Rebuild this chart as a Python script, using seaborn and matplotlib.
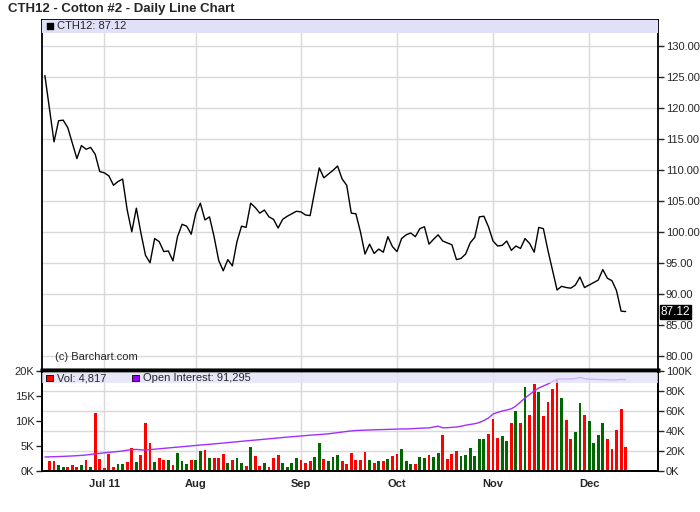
import numpy as np
import pandas as pd
import matplotlib
matplotlib.use("Agg")
import matplotlib.pyplot as plt
import seaborn as sns

# daily closes, CTH12 (one per trading day, 14 Jun 2011 -> 13 Dec 2011)
price = [125.2, 119.8, 114.5, 117.9, 118.0, 116.8, 114.3, 111.8, 113.9, 113.3,
         113.6, 112.5, 109.7, 109.5, 109.0, 107.5, 108.1, 108.5, 103.5, 100.0,
         103.8, 99.8, 96.2, 95.0, 98.9, 98.4, 96.8, 96.9, 95.3, 99.2,
         101.2, 100.9, 99.6, 103.0, 104.6, 101.9, 102.4, 99.2, 95.4, 93.7,
         95.5, 94.5, 98.4, 100.9, 100.7, 104.6, 103.9, 103.0, 103.5, 102.4,
         102.0, 100.6, 102.0, 102.5, 102.9, 103.3, 103.2, 102.7, 102.6, 106.5,
         110.3, 108.7, 109.3, 109.9, 110.6, 108.5, 107.5, 103.0, 102.9, 100.0,
         96.4, 98.0, 96.5, 97.2, 96.7, 99.2, 97.6, 96.8, 98.9, 99.5,
         99.8, 99.2, 100.5, 100.8, 98.0, 98.8, 99.5, 98.5, 98.2, 97.9,
         95.5, 95.7, 96.4, 98.2, 99.1, 102.4, 102.5, 100.8, 98.5, 97.7,
         97.8, 98.5, 97.0, 97.7, 97.3, 98.9, 98.1, 96.7, 100.7, 100.5,
         97.0, 93.8, 90.6, 91.2, 91.0, 90.9, 91.4, 92.7, 91.0, 91.4,
         91.8, 92.2, 93.9, 92.5, 92.1, 90.5, 87.2, 87.12]

# volume in thousands, trading days 1..127 (no bar on day 0)
volume_k = [2.0, 2.0, 1.2, 0.8, 0.8, 1.2, 0.8, 1.2, 2.2, 0.8,
            11.6, 2.4, 0.6, 3.4, 0.8, 1.4, 1.4, 1.8, 4.6, 1.8,
            3.2, 9.6, 5.6, 1.8, 2.6, 2.2, 2.2, 1.2, 3.6, 2.0,
            1.4, 2.2, 2.2, 4.0, 4.2, 2.6, 2.6, 2.6, 3.4, 1.6,
            2.2, 2.6, 1.6, 1.0, 4.8, 3.0, 1.0, 1.6, 0.8, 2.6,
            3.2, 1.6, 0.8, 1.6, 2.6, 2.2, 1.6, 2.0, 2.8, 5.6,
            2.4, 2.0, 2.8, 3.2, 2.0, 1.4, 3.6, 2.2, 2.2, 3.8,
            2.2, 1.6, 2.0, 2.0, 2.4, 3.0, 3.4, 4.4, 2.0, 1.4,
            1.4, 2.8, 2.6, 3.2, 2.8, 3.6, 7.2, 2.4, 3.4, 4.0,
            3.0, 3.2, 4.6, 3.0, 6.4, 6.4, 7.4, 10.4, 6.6, 7.0,
            6.0, 9.6, 12.0, 9.6, 16.8, 11.2, 17.4, 15.8, 11.0, 13.8,
            16.4, 18.2, 14.6, 10.2, 6.4, 7.8, 13.6, 11.2, 10.0, 5.6,
            7.2, 9.6, 6.4, 4.4, 8.2, 12.4, 4.817]
# bar colour: u = up day (green), d = down day (red)
volume_dir = list("dduudddudu" "ddddduuddu" "dddudduduu" "uduududddu"
                  "duududdudd" "duuuuddduu" "duuudddddd" "udududduuu"
                  "duuduudddd" "uuuuuudddu" "udududdudd" "ddudduuduu"
                  "uuddddd")

# open interest in thousands, trading days 0..127
open_int_k = [14.0, 14.2, 14.3, 14.4, 14.6, 14.8, 15.0, 15.3, 15.6, 16.0,
              16.6, 17.2, 17.6, 18.2, 18.6, 19.0, 19.5, 20.0, 20.8, 21.3,
              21.6, 21.2, 21.0, 21.4, 21.9, 22.3, 22.7, 23.1, 23.4, 23.8,
              24.2, 24.6, 25.1, 25.6, 26.0, 26.3, 26.7, 27.1, 27.6, 28.0,
              28.4, 28.8, 29.3, 29.7, 30.1, 30.5, 30.9, 31.4, 31.8, 32.2,
              32.6, 33.1, 33.5, 33.9, 34.3, 34.8, 35.2, 35.5, 35.8, 36.1,
              36.4, 36.8, 37.2, 37.8, 38.4, 39.0, 39.6, 40.1, 40.5, 40.7,
              40.9, 41.0, 41.2, 41.3, 41.5, 41.6, 41.8, 42.0, 42.1, 42.0,
              42.2, 42.5, 42.8, 43.0, 43.1, 44.0, 44.8, 43.2, 43.3, 43.6,
              44.0, 44.8, 45.8, 46.5, 47.3, 48.5, 50.5, 53.0, 57.0, 58.6,
              60.0, 61.0, 62.2, 65.0, 69.0, 73.0, 76.5, 80.0, 83.0, 85.0,
              87.0, 89.5, 91.8, 92.0, 92.0, 92.1, 92.5, 93.6, 92.4, 91.8,
              91.6, 91.5, 91.4, 91.2, 91.0, 91.2, 91.6, 91.295]

month_labels = ["Jul 11", "Aug", "Sep", "Oct", "Nov", "Dec"]
holidays = ["2011-07-04", "2011-09-05", "2011-11-24"]

# trading calendar -> integer x positions
days = pd.bdate_range("2011-06-14", "2011-12-13")
days = days[~days.isin(pd.to_datetime(holidays))]
idx = np.arange(len(days))
first_of_month = pd.Series(idx, index=days).groupby(days.to_period("M")).first()
month_pos = first_of_month.values[1:]

price_df = pd.DataFrame({"day": idx, "close": price, "oi": open_int_k})
vol_df = pd.DataFrame({"day": idx[1:], "vol": volume_k, "dir": volume_dir})

sns.set_style("white")
plt.rcParams["font.family"] = ["Liberation Sans", "DejaVu Sans"]

GRID = "#d9d9d9"
BAND = "#e0e0f8"
TICK_FS = 8
fig = plt.figure(figsize=(7, 5.12), dpi=100)
axp = fig.add_axes([42 / 700, 142 / 512, 616 / 700, 350 / 512])
axv = fig.add_axes([42 / 700, 41 / 512, 616 / 700, 101 / 512])
axo = axv.twinx()

# ---- price panel
sns.lineplot(data=price_df, x="day", y="close", color="black", lw=1.0, ax=axp)
axp.set_xlim(-0.63, 134.07)
axp.set_ylim(77.7, 134.15)
axp.set_yticks(np.arange(80, 131, 5))
axp.set_yticklabels([f"{v:.2f}" for v in np.arange(80, 131, 5)])
axp.yaxis.tick_right()
axp.set_xticks(month_pos)
axp.set_xticklabels([])
axp.tick_params(axis="x", length=0)
axp.tick_params(axis="y", direction="out", length=4, width=1, labelsize=TICK_FS, pad=1.5)
axp.grid(True, color=GRID, lw=1)
axp.set_xlabel("")
axp.set_ylabel("")
for s in axp.spines.values():
    s.set_color("black")
    s.set_linewidth(1.3)
axp.spines["bottom"].set_linewidth(2.5)
axp.add_patch(plt.Rectangle((0, 0.963), 1, 0.037, transform=axp.transAxes,
                            facecolor=BAND, edgecolor="none", zorder=3))
axp.scatter([0.0125], [0.9815], transform=axp.transAxes, marker="s", s=18,
            color="black", zorder=4)
axp.text(0.024, 0.9815, f"CTH12: {price[-1]:.2f}", transform=axp.transAxes,
         fontsize=8, va="center", ha="left", zorder=4)
axp.text(0.021, 0.037, "(c) Barchart.com", transform=axp.transAxes,
         fontsize=8, va="center", ha="left")
axp.text(1.004, price[-1], f"{price[-1]:.2f}", transform=axp.get_yaxis_transform(),
         fontsize=8.5, color="white", va="center", ha="left", zorder=5,
         bbox=dict(boxstyle="square,pad=0.08", facecolor="black", edgecolor="black"),
         clip_on=False)

# ---- volume panel
VOL_TOP, OI_TOP = 20.2, 101.0
sns.barplot(data=vol_df, x="day", y="vol", hue="dir", native_scale=True,
            palette={"u": "#006600", "d": "#ff0000"}, width=0.62, dodge=False,
            saturation=1, errorbar=None, legend=False, ax=axv, zorder=2,
            edgecolor="none", linewidth=0)
for p in axv.patches:
    p.set_antialiased(False)
for t in [20, 40, 60, 80]:
    axv.axhline(t * VOL_TOP / OI_TOP, color=GRID, lw=1, zorder=0)
for m in month_pos:
    axv.axvline(m, color=GRID, lw=1, zorder=0)
axv.set_xlim(-0.63, 134.07)
axv.set_ylim(0, VOL_TOP)
axv.set_yticks([0, 5, 10, 15, 20])
axv.set_yticklabels(["0K", "5K", "10K", "15K", "20K"])
axv.set_xticks(month_pos)
axv.set_xticklabels(month_labels, fontweight="bold", fontsize=8.5)
axv.tick_params(axis="both", direction="out", length=4, width=1, labelsize=TICK_FS, pad=1.5)
axv.set_xlabel("")
axv.set_ylabel("")

sns.lineplot(data=price_df, x="day", y="oi", color="#a030ff", lw=1.0, ax=axo, zorder=3)
axo.set_ylim(0, OI_TOP)
axo.set_yticks([0, 20, 40, 60, 80, 100])
axo.set_yticklabels(["0K", "20K", "40K", "60K", "80K", "100K"])
axo.tick_params(axis="y", direction="out", length=4, width=1, labelsize=TICK_FS, pad=1.5)
axo.set_ylabel("")
for ax in (axv, axo):
    for s in ax.spines.values():
        s.set_color("black")
        s.set_linewidth(1.3)
    ax.spines["top"].set_linewidth(2.5)
axo.add_patch(plt.Rectangle((0, 0.868), 1, 0.105, transform=axo.transAxes,
                            facecolor=BAND, edgecolor="none", alpha=0.75, zorder=6))
axo.scatter([0.0125, 0.152], [0.92, 0.92], transform=axo.transAxes, marker="s",
            s=22, color=["#ff0000", "#9900ff"], edgecolor="black", lw=0.6, zorder=7)
axo.text(0.024, 0.92, f"Vol: {volume_k[-1] * 1000:,.0f}", transform=axo.transAxes,
         fontsize=8, va="center", ha="left", zorder=7)
axo.text(0.164, 0.92, f"Open Interest: {open_int_k[-1] * 1000:,.0f}",
         transform=axo.transAxes, fontsize=8, va="center", ha="left", zorder=7)

fig.text(8 / 700, 1 - 9 / 512, "CTH12 - Cotton #2 - Daily Line Chart",
         fontsize=9.5, fontweight="bold", va="center", ha="left")

fig.savefig("out.png", dpi=100)
